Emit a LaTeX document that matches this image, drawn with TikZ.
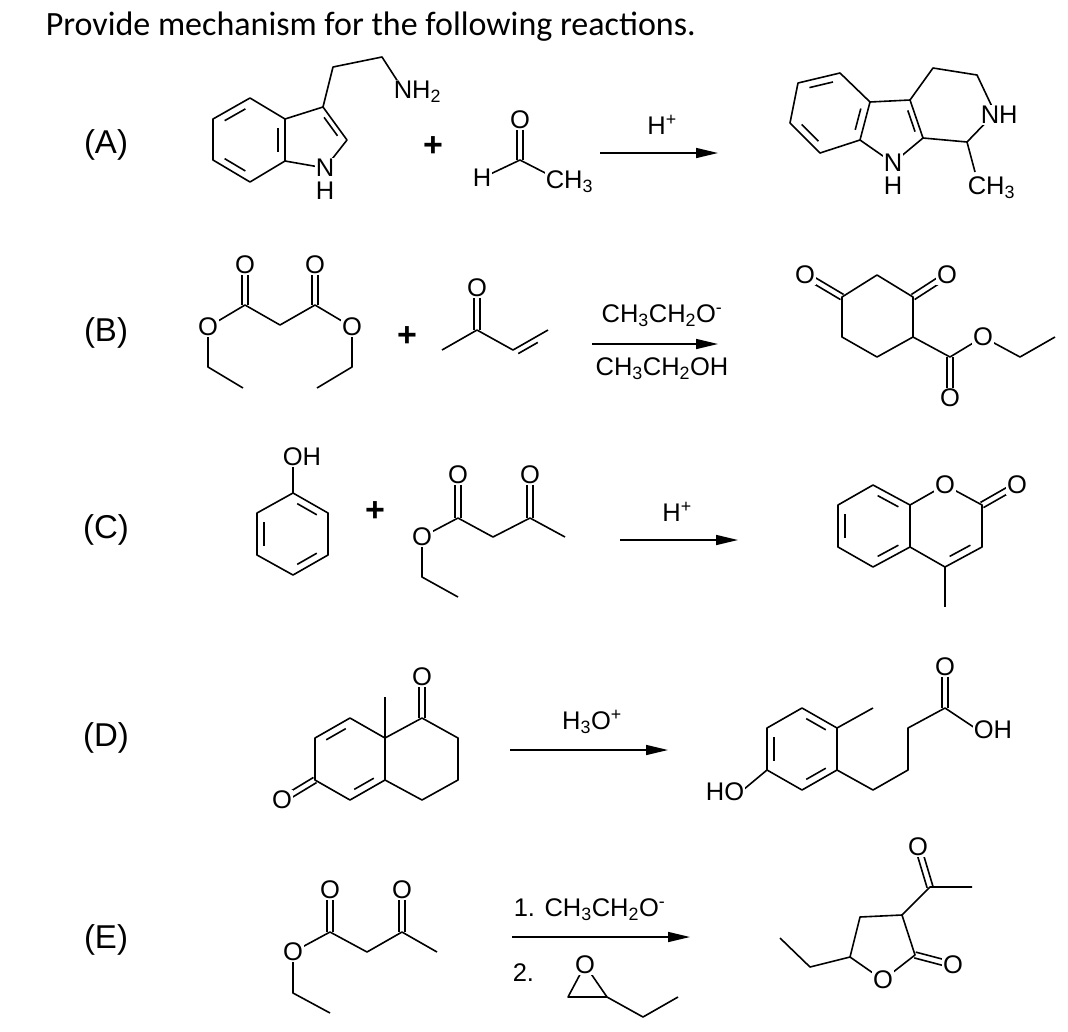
\documentclass[tikz,border=0pt]{standalone}
\usepackage{fontspec}
\setmainfont{Liberation Sans}
\newfontfamily\titlefont{Carlito}
\usetikzlibrary{calc,arrows.meta}
\newcommand{\dbin}[3]{\draw ($($(#1)!.15!(#2)$)!.2!(#3)$) -- ($($(#1)!.85!(#2)$)!.2!(#3)$);}
\newcommand{\dbl}[2]{\draw ($(#1)!3pt!90:(#2)$) -- ($(#2)!3pt!-90:(#1)$); \draw ($(#1)!3pt!-90:(#2)$) -- ($(#2)!3pt!90:(#1)$);}
\begin{document}
\begin{tikzpicture}[x=1pt,y=-1pt,line width=1.6pt,line join=round,
  atom/.style={fill=white,inner sep=1pt,font=\fontsize{25.5}{27}\selectfont},
  txt/.style={inner sep=0pt,font=\fontsize{25.5}{27}\selectfont},
  pls/.style={inner sep=0pt,font=\fontsize{34}{36}\selectfont\bfseries},
  lbl/.style={inner sep=0pt,font=\fontsize{33}{35}\selectfont},
  rx/.style={-{Triangle[length=22pt,width=10pt]},line width=1.6pt}]
\useasboundingbox[fill=white] (0,0) rectangle (1068,1031);
\node[anchor=west,inner sep=0pt,font=\titlefont\fontsize{34}{36}\selectfont] (title) at (45,27) {Provide mechanism for the following reactions.};
\node[lbl] (la) at (106,145) {(A)};
\node[lbl] (lb) at (106,333) {(B)};
\node[lbl] (lc) at (106,530) {(C)};
\node[lbl] (ld) at (106,738) {(D)};
\node[lbl] (le) at (106,940) {(E)};
% ---------- A reactant
\coordinate (a1) at (250,98); \coordinate (a2) at (213,119); \coordinate (a3) at (213,160);
\coordinate (a4) at (250,182); \coordinate (a5) at (285,161); \coordinate (a6) at (285,119);
\coordinate (ac) at (249,140);
\coordinate (a7) at (323,107); \coordinate (a8) at (347,140); \coordinate (aN) at (325,168);
\coordinate (a5c) at (314,139);
\coordinate (s1) at (333,67); \coordinate (s2) at (382,57); \coordinate (sN) at (402,88);
\draw (a1)--(a2)--(a3)--(a4)--(a5)--(a6)--cycle;
\dbin{a1}{a2}{ac} \dbin{a3}{a4}{ac} \dbin{a5}{a6}{ac}
\draw (a6)--(a7)--(a8)--(aN)--(a5);
\dbin{a7}{a8}{a5c}
\draw (a7)--(s1)--(s2)--(sN);
\node[atom] (aNl) at (aN) {N};
\node[txt] (aHl) at (325,191) {H};
\node[atom,anchor=west] (nh2) at (392,92) {NH\textsubscript{2}};
\node[pls] (plA) at (433,147) {+};
\coordinate (ec) at (520,160); \coordinate (eo) at (520,120); \coordinate (eh) at (482,178); \coordinate (em) at (555,178);
\draw (eh)--(ec)--(em); \dbl{ec}{eo}
\node[atom] (eol) at (eo) {O};
\node[atom] (ehl) at (eh) {H};
\node[atom,anchor=west] (eml) at (544,182) {CH\textsubscript{3}};
\coordinate (arA1) at (600,153); \coordinate (arA2) at (718,153);
\draw[rx] (arA1)--(arA2);
\node[txt] (hA) at (662,125) {H\textsuperscript{+}};
% ---------- A product
\coordinate (p1) at (840,73); \coordinate (p2) at (798,83); \coordinate (p3) at (790,123);
\coordinate (p4) at (820,153); \coordinate (p5) at (860,140); \coordinate (p6) at (870,102);
\coordinate (pc) at (830,112);
\coordinate (p7) at (910,100); \coordinate (p8) at (923,138); \coordinate (pN) at (893,163);
\coordinate (p5c) at (891,129);
\coordinate (q1) at (933,68); \coordinate (q2) at (977,75); \coordinate (qN) at (995,113);
\coordinate (q3) at (967,142); \coordinate (qm) at (975,172);
\draw (p1)--(p2)--(p3)--(p4)--(p5)--(p6)--cycle;
\dbin{p1}{p2}{pc} \dbin{p3}{p4}{pc} \dbin{p5}{p6}{pc}
\draw (p6)--(p7)--(p8)--(pN)--(p5);
\dbin{p7}{p8}{p5c}
\draw (p7)--(q1)--(q2)--(qN)--(q3)--(p8); \draw (q3)--(qm);
\node[atom] (pNl) at (pN) {N};
\node[txt] (pHl) at (893,186) {H};
\node[atom,anchor=west] (qNl) at (979,115) {NH};
\node[atom,anchor=west] (qml) at (966,188) {CH\textsubscript{3}};
% ---------- B reactant
\coordinate (b1) at (245,305); \coordinate (b2) at (315,305); \coordinate (bm) at (280,325);
\coordinate (bo1) at (245,265); \coordinate (bo2) at (315,265);
\coordinate (be1) at (208,327); \coordinate (be2) at (352,327);
\coordinate (bt1) at (208,367); \coordinate (bt2) at (352,367);
\coordinate (bu1) at (243,388); \coordinate (bu2) at (317,388);
\draw (bu1)--(bt1)--(be1)--(b1)--(bm)--(b2)--(be2)--(bt2)--(bu2);
\dbl{b1}{bo1} \dbl{b2}{bo2}
\node[atom] at (bo1) {O}; \node[atom] at (bo2) {O};
\node[atom] at (be1) {O}; \node[atom] at (be2) {O};
\node[pls] (plB) at (407,337) {+};
\coordinate (m1) at (477,330); \coordinate (mo) at (477,288); \coordinate (mm) at (442,350);
\coordinate (mv) at (513,350); \coordinate (mw) at (548,330); \coordinate (mvc) at (518,380);
\draw (mm)--(m1)--(mv)--(mw); \dbl{m1}{mo}
\dbin{mv}{mw}{mvc}
\node[atom] at (mo) {O};
\coordinate (arB1) at (592,344); \coordinate (arB2) at (718,344);
\draw[rx] (arB1)--(arB2);
\node[txt] (cB1) at (662,316) {CH\textsubscript{3}CH\textsubscript{2}O\textsuperscript{-}};
\node[txt] (cB2) at (662,369) {CH\textsubscript{3}CH\textsubscript{2}OH};
% ---------- B product
\coordinate (r5) at (842,297); \coordinate (r6) at (877,275); \coordinate (r1) at (913,297);
\coordinate (r2) at (913,337); \coordinate (r3) at (877,357); \coordinate (r4) at (842,337);
\coordinate (ro1) at (805,275); \coordinate (ro2) at (947,275);
\coordinate (rc) at (950,357); \coordinate (rco) at (950,398); \coordinate (reo) at (983,337);
\coordinate (rt1) at (1020,357); \coordinate (rt2) at (1055,337);
\draw (r1)--(r2)--(r3)--(r4)--(r5)--(r6)--cycle;
\draw (r2)--(rc)--(reo)--(rt1)--(rt2);
\dbl{r5}{ro1} \dbl{r1}{ro2} \dbl{rc}{rco}
\node[atom] at (ro1) {O}; \node[atom] at (ro2) {O}; \node[atom] at (rco) {O}; \node[atom] at (reo) {O};
% ---------- C reactant
\coordinate (c1) at (293,493); \coordinate (c2) at (328,513); \coordinate (c3) at (328,555);
\coordinate (c4) at (293,575); \coordinate (c5) at (257,555); \coordinate (c6) at (257,513);
\coordinate (cc) at (293,534); \coordinate (coh) at (293,458);
\draw (c1)--(c2)--(c3)--(c4)--(c5)--(c6)--cycle;
\dbin{c1}{c2}{cc} \dbin{c3}{c4}{cc} \dbin{c5}{c6}{cc}
\draw (c1)--(coh);
\node[atom,anchor=south] at (302,468) {OH};
\node[pls] (plC) at (375,512) {+};
\coordinate (k1) at (458,518); \coordinate (ko1) at (458,475); \coordinate (km) at (493,537);
\coordinate (k2) at (530,518); \coordinate (ko2) at (530,475); \coordinate (kme) at (565,537);
\coordinate (keo) at (422,537); \coordinate (kt1) at (422,577); \coordinate (kt2) at (458,597);
\draw (kt2)--(kt1)--(keo)--(k1)--(km)--(k2)--(kme);
\dbl{k1}{ko1} \dbl{k2}{ko2}
\node[atom] at (ko1) {O}; \node[atom] at (ko2) {O}; \node[atom] at (keo) {O};
\coordinate (arC1) at (620,540); \coordinate (arC2) at (738,540);
\draw[rx] (arC1)--(arC2);
\node[txt] (hC) at (677,512) {H\textsuperscript{+}};
% ---------- C product
\coordinate (u1) at (873,485); \coordinate (u2) at (838,505); \coordinate (u3) at (838,547);
\coordinate (u4) at (873,567); \coordinate (u5) at (910,547); \coordinate (u6) at (910,505);
\coordinate (uc) at (874,526); \coordinate (uo) at (945,485); \coordinate (v2) at (982,505);
\coordinate (vo) at (1017,485); \coordinate (v3) at (982,547); \coordinate (v4) at (945,567);
\coordinate (vm) at (945,607); \coordinate (vc) at (946,526);
\draw (u1)--(u2)--(u3)--(u4)--(u5)--(u6)--cycle;
\dbin{u2}{u3}{uc} \dbin{u4}{u5}{uc} \dbin{u6}{u1}{uc}
\draw (u6)--(uo)--(v2)--(v3)--(v4)--(u5); \draw (v4)--(vm);
\dbin{v3}{v4}{vc} \dbl{v2}{vo}
\node[atom] at (uo) {O}; \node[atom] at (vo) {O};
% ---------- D reactant
\coordinate (d1) at (422,718); \coordinate (do) at (422,677); \coordinate (d8a) at (385,738);
\coordinate (dme) at (385,697); \coordinate (d2) at (458,738); \coordinate (d3) at (458,780);
\coordinate (d4) at (422,800); \coordinate (d4a) at (385,780); \coordinate (d8) at (350,718);
\coordinate (d7) at (315,738); \coordinate (d6) at (315,780); \coordinate (d5) at (350,800);
\coordinate (dO6) at (282,800); \coordinate (dcl) at (350,759);
\draw (d8a)--(d1)--(d2)--(d3)--(d4)--(d4a)--(d8a)--(d8)--(d7)--(d6)--(d5)--(d4a);
\draw (d8a)--(dme);
\dbl{d1}{do} \dbl{d6}{dO6}
\dbin{d8}{d7}{dcl} \dbin{d4a}{d5}{dcl}
\node[atom] at (do) {O}; \node[atom] at (dO6) {O};
\coordinate (arD1) at (510,750); \coordinate (arD2) at (668,750);
\draw[rx] (arD1)--(arD2);
\node[txt] (hD) at (592,722) {H\textsubscript{3}O\textsuperscript{+}};
% ---------- D product
\coordinate (w1) at (802,708); \coordinate (w2) at (767,728); \coordinate (w3) at (767,770);
\coordinate (w4) at (802,790); \coordinate (w5) at (837,770); \coordinate (w6) at (837,728);
\coordinate (wc) at (802,749); \coordinate (wm) at (873,708); \coordinate (who) at (743,790);
\coordinate (x1) at (873,790); \coordinate (x2) at (908,770); \coordinate (x3) at (908,728);
\coordinate (x4) at (945,708); \coordinate (xo) at (945,667); \coordinate (xoh) at (975,728);
\draw (w1)--(w2)--(w3)--(w4)--(w5)--(w6)--cycle;
\dbin{w1}{w6}{wc} \dbin{w2}{w3}{wc} \dbin{w4}{w5}{wc}
\draw (w6)--(wm); \draw (w3)--(who);
\draw (w5)--(x1)--(x2)--(x3)--(x4)--(xoh); \dbl{x4}{xo}
\node[atom] at (xo) {O};
\node[atom,anchor=west] at (972,730) {OH};
\node[atom,anchor=east] at (746,792) {HO};
% ---------- E reactant
\coordinate (e1) at (330,932); \coordinate (eo1) at (330,890); \coordinate (emm) at (367,952);
\coordinate (e2) at (402,932); \coordinate (eo2) at (402,890); \coordinate (eme) at (437,952);
\coordinate (eeo) at (293,952); \coordinate (et1) at (293,993); \coordinate (et2) at (330,1013);
\draw (et2)--(et1)--(eeo)--(e1)--(emm)--(e2)--(eme);
\dbl{e1}{eo1} \dbl{e2}{eo2}
\node[atom] at (eo1) {O}; \node[atom] at (eo2) {O}; \node[atom] at (eeo) {O};
\coordinate (arE1) at (512,937); \coordinate (arE2) at (690,937);
\draw[rx] (arE1)--(arE2);
\node[txt,anchor=west] (cE1) at (513,910) {1. CH\textsubscript{3}CH\textsubscript{2}O\textsuperscript{-}};
\node[txt,anchor=west] (cE2) at (512,973) {2.};
\coordinate (xo1) at (585,965); \coordinate (xc1) at (568,997); \coordinate (xc2) at (607,997);
\coordinate (xe1) at (643,1017); \coordinate (xe2) at (678,997);
\draw (xo1)--(xc1)--(xc2)--cycle; \draw (xc2)--(xe1)--(xe2);
\node[atom] at (xo1) {O};
% ---------- E product
\coordinate (fo) at (883,980); \coordinate (f2) at (915,955); \coordinate (f3) at (902,915);
\coordinate (f4) at (860,917); \coordinate (f5) at (850,957); \coordinate (fox) at (953,965);
\coordinate (fe1) at (810,967); \coordinate (fe2) at (780,938);
\coordinate (fa) at (930,887); \coordinate (fao) at (918,847); \coordinate (fam) at (972,887);
\draw (fo)--(f2)--(f3)--(f4)--(f5)--cycle;
\draw (f5)--(fe1)--(fe2); \draw (f3)--(fa)--(fam);
\dbl{f2}{fox} \dbl{fa}{fao}
\node[atom] at (fo) {O}; \node[atom] at (fox) {O}; \node[atom] at (fao) {O};
\end{tikzpicture}
\end{document}
